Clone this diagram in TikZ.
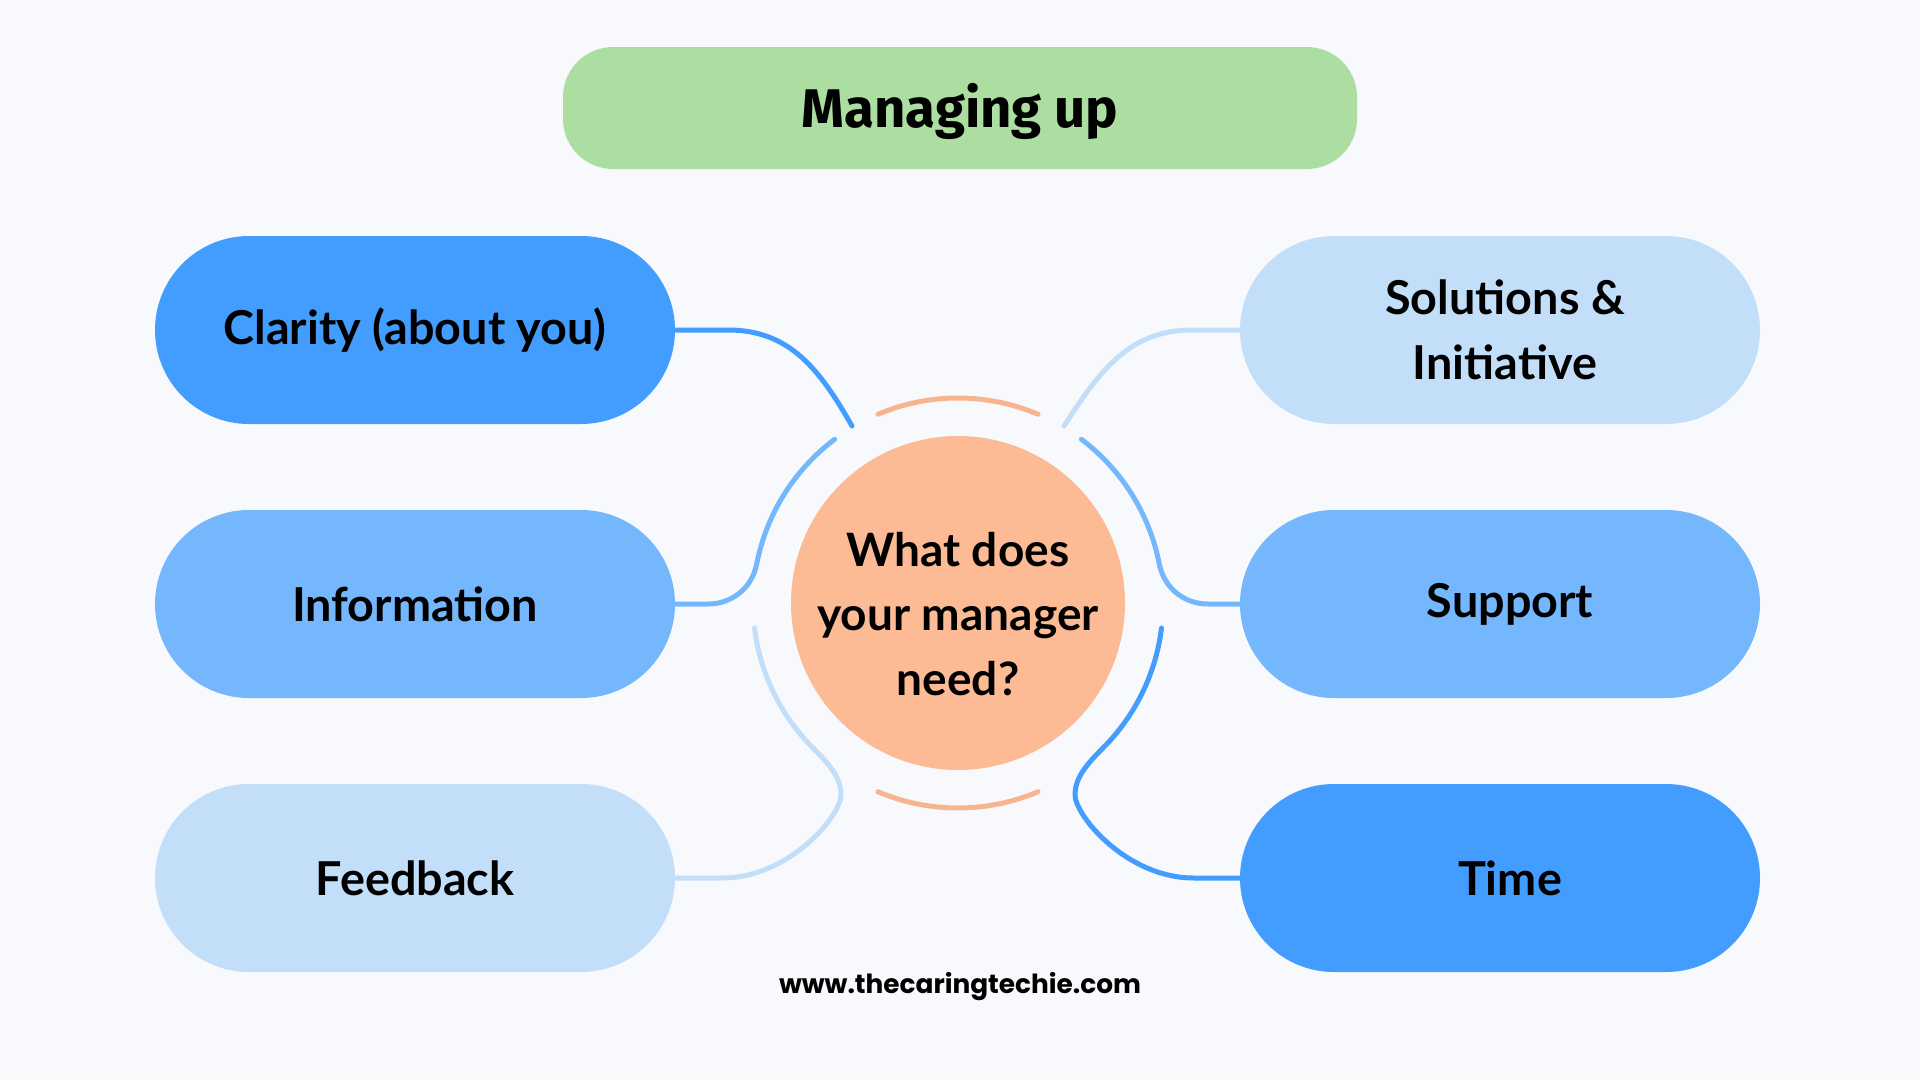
\documentclass[tikz,border=0pt]{standalone}
\usepackage{fontspec}
\setmainfont{Lato}
\newfontfamily\titlefont{Fira Sans}
\newfontfamily\urlfont{Poppins}
\definecolor{bgcol}{HTML}{F7F9FD}
\definecolor{dkblue}{HTML}{439DFE}
\definecolor{mdblue}{HTML}{74B7FC}
\definecolor{ltblue}{HTML}{C3DEF8}
\definecolor{ctrorange}{HTML}{FCBB94}
\definecolor{arcorange}{HTML}{F8B48E}
\definecolor{titlegreen}{HTML}{ADDEA1}
\begin{document}
\begin{tikzpicture}[x=0.1mm,y=0.1mm,
  pill/.style={rounded corners=9.4mm, minimum width=52mm, minimum height=18.8mm,
    inner sep=0pt, align=center, text=black,
    font=\bfseries\fontsize{13.3}{18.5}\selectfont},
  conn/.style={line width=1.42pt, line cap=round},
  orangearc/.style={line width=1.42pt, line cap=round, draw=arcorange}]
\useasboundingbox (0,0) rectangle (1920,1080);
\fill[bgcol] (0,0) rectangle (1920,1080);

% title
\node[fill=titlegreen, rounded corners=5mm, minimum width=79.4mm, minimum height=12.2mm] (title) at (960,972) {};
\node[font=\titlefont\bfseries\fontsize{15.5}{18}\selectfont] (titletext) at (960,969) {Managing up};

% pills
\node[pill, fill=dkblue] (cla) at (415,750) {Clarity (about you)};
\node[pill, fill=mdblue] (inf) at (415,476) {Information};
\node[pill, fill=ltblue] (fee) at (415,202) {Feedback};
\node[pill, fill=ltblue] (sol) at (1500,750) {\hspace*{1mm}Solutions \&\\\hspace*{1mm}Initiative};
\node[pill, fill=mdblue] (sup) at (1500,476) {\hspace*{2mm}Support};
\node[pill, fill=dkblue] (tim) at (1500,202) {\hspace*{2mm}Time};

% centre
\node[circle, fill=ctrorange, minimum size=33.4mm, inner sep=0pt] (ctr) at (958,477) {};
\node[align=center, font=\bfseries\fontsize{13.1}{18.4}\selectfont] (ctrtext) at (958,466)
  {What does\\your manager\\need?};

% url
\node[font=\urlfont\bfseries\fontsize{7.5}{9}\selectfont] (url) at (960,93) {www.thecaringtechie.com};

% arc end coordinates
\coordinate (cA) at (852,654);
\coordinate (sA) at (1064,654);
\coordinate (iA) at (834.6,640.7);
\coordinate (pA) at (1081.4,640.7);
\coordinate (fA) at (754.5,452);
\coordinate (tA) at (1161.5,452);
\coordinate (oT) at (1038.1,665.7);
\coordinate (oB) at (877.9,288.3);

% orange arcs
\draw[orangearc] (oT) arc[start angle=67, end angle=113, radius=205];
\draw[orangearc] (oB) arc[start angle=247, end angle=293, radius=205];

% connectors
\draw[conn, dkblue] (cla.east) -- (728,750) .. controls (790,750) and (820,710) .. (cA);
\draw[conn, ltblue] (sol.west) -- (1192,750) .. controls (1130,750) and (1100,710) .. (sA);
\draw[conn, mdblue] (iA) arc[start angle=127, end angle=169, radius=205]
  .. controls (752,492) and (732,476) .. (708,476) -- (inf.east);
\draw[conn, mdblue] (pA) arc[start angle=53, end angle=11, radius=205]
  .. controls (1164,492) and (1184,476) .. (1208,476) -- (sup.west);
\draw[conn, ltblue] (fA) arc[start angle=187, end angle=225, radius=205]
  .. controls (830,315) and (841,302) .. (841,285)
  .. controls (841,265) and (790,202) .. (722,202) -- (fee.east);
\draw[conn, dkblue] (tA) arc[start angle=353, end angle=315, radius=205]
  .. controls (1086,315) and (1075,302) .. (1075,285)
  .. controls (1075,265) and (1126,202) .. (1194,202) -- (tim.west);
\end{tikzpicture}
\end{document}
